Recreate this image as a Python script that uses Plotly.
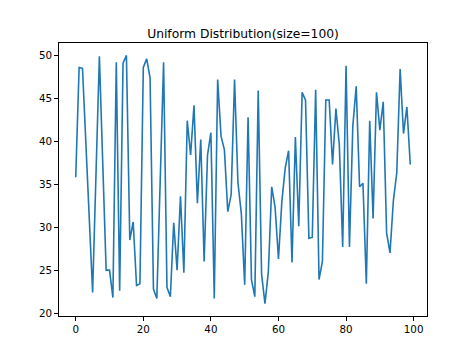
import plotly.graph_objects as go

title_text = "Uniform Distribution(size=100)"
x_values = list(range(100))
y_values = [
    35.8, 48.6, 48.5, 39.8, 31.1, 22.4, 36.2, 49.9, 37.4, 25.0,
    25.0, 21.8, 49.2, 22.6, 49.1, 50.0, 28.5, 30.6, 23.2, 23.4,
    48.6, 49.6, 47.4, 22.8, 21.7, 35.5, 49.2, 23.0, 21.9, 30.5,
    25.0, 33.6, 24.7, 42.4, 38.4, 44.2, 32.8, 40.2, 26.0, 38.4,
    41.0, 21.7, 47.2, 40.6, 39.0, 31.8, 33.8, 47.2, 35.2, 31.6,
    23.3, 42.8, 23.9, 21.9, 45.9, 24.5, 21.1, 24.8, 34.7, 32.3,
    26.3, 33.0, 36.9, 38.9, 25.9, 40.5, 30.1, 45.7, 44.8, 28.7,
    28.8, 46.0, 23.9, 26.0, 44.8, 44.8, 37.3, 43.8, 39.6, 27.7,
    48.8, 27.7, 41.8, 46.4, 34.7, 35.1, 23.4, 42.4, 31.0, 45.7,
    41.3, 44.6, 29.3, 27.0, 33.1, 36.3, 48.4, 40.9, 44.0, 37.3,
]
x_ticks = [0, 20, 40, 60, 80, 100]
y_ticks = [20, 25, 30, 35, 40, 45, 50]

xmin, xmax = min(x_values), max(x_values)
ymin, ymax = min(y_values), max(y_values)
xm = 0.05 * (xmax - xmin)
ym = 0.05 * (ymax - ymin)

fig = go.Figure(go.Scatter(
    x=x_values, y=y_values, mode="lines",
    line=dict(color="#1f77b4", width=1.6),
))

axis_common = dict(
    showline=True, linecolor="black", linewidth=0.9, mirror=True,
    ticks="outside", ticklen=4, tickwidth=0.9, tickcolor="black",
    showgrid=False, zeroline=False,
    tickfont=dict(family="DejaVu Sans", size=10.3, color="black"),
)

fig.update_layout(
    width=474, height=355,
    margin=dict(l=59, r=47, t=43, b=39),
    paper_bgcolor="white", plot_bgcolor="white",
    showlegend=False,
    font=dict(family="DejaVu Sans", color="black"),
    title=dict(
        text=title_text, x=0.5, xref="paper", xanchor="center",
        y=1, yref="paper", yanchor="bottom", pad=dict(b=5),
        font=dict(family="DejaVu Sans", size=12.3, color="black"),
    ),
    xaxis=dict(range=[xmin - xm, xmax + xm], tickvals=x_ticks, **axis_common),
    yaxis=dict(range=[ymin - ym, ymax + ym], tickvals=y_ticks, **axis_common),
)

fig.write_html("out.html")
